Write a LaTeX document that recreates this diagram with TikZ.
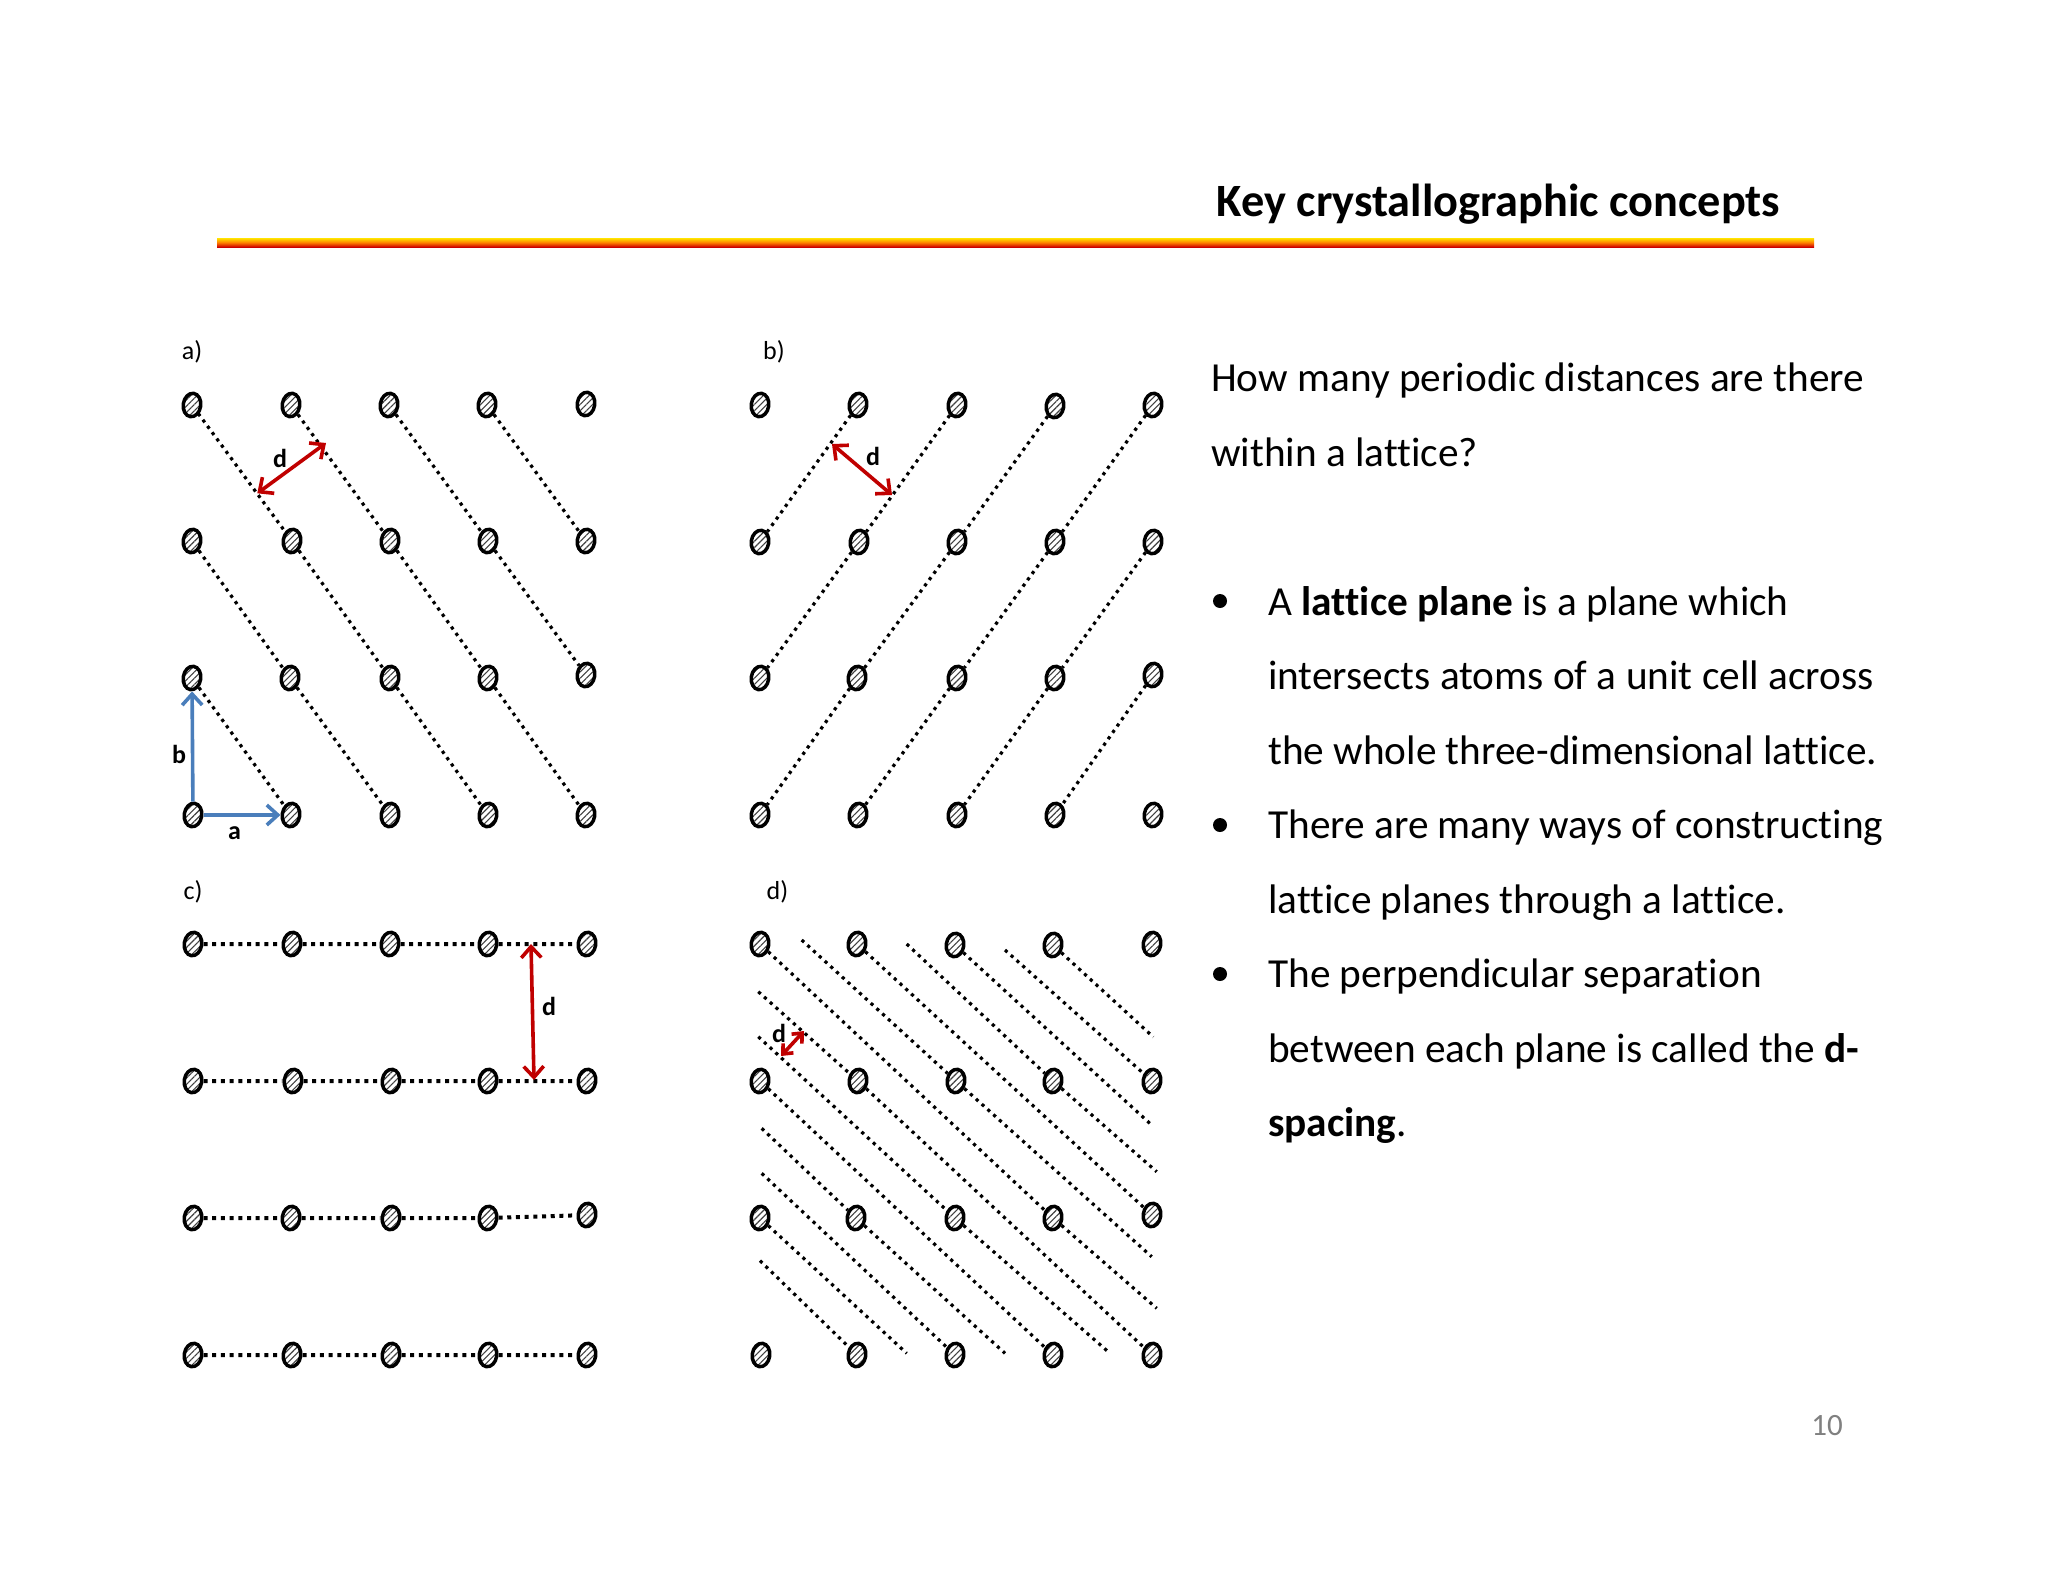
\documentclass[tikz,border=0pt]{standalone}
\usepackage{fontspec}
\setmainfont{Carlito}[Ligatures=NoCommon]
\usetikzlibrary{shapes.geometric,patterns.meta,arrows.meta}
\definecolor{arrowred}{RGB}{192,0,0}
\definecolor{arrowblue}{RGB}{74,126,187}
\tikzset{
  atom/.style={ellipse,draw=black,line width=3.5pt,inner sep=0pt,minimum width=17.5pt,minimum height=23.5pt,rotate=-8,
    pattern={Lines[angle=45,distance=4.4pt,line width=1.1pt]},pattern color=black!75},
  dotline/.style={line width=3.2pt,dash pattern=on 3.2pt off 4.6pt,black},
  dotthick/.style={line width=4pt,dash pattern=on 4pt off 4.7pt,black},
  redarrow/.style={line width=3.6pt,arrowred,{Straight Barb[length=11pt,width=20pt,line width=3.6pt]}-{Straight Barb[length=11pt,width=20pt,line width=3.6pt]}},
  bluearrow/.style={line width=3.6pt,arrowblue,-{Straight Barb[length=11pt,width=20pt,line width=3.6pt]}},
  small/.style={font=\fontsize{26}{26}\selectfont,inner sep=0pt},
  tag/.style={font=\fontsize{26}{26}\selectfont\bfseries,inner sep=0pt},
  body/.style={font=\fontsize{41.3}{41.3}\selectfont,inner sep=0pt,anchor=base west},
  titletext/.style={font=\fontsize{46.3}{46.3}\selectfont\bfseries,inner sep=0pt,anchor=base east},
  bullet/.style={fill=black,circle,inner sep=0pt,minimum size=14pt},
  pagenum/.style={font=\fontsize{31}{31}\selectfont,inner sep=0pt,text=black!50},
}
\newcommand{\atoms}[2]{\foreach \n/\x in {#2}{\node[atom] (#1\n) at (\x) {};}}
\begin{document}
\begin{tikzpicture}[x=1pt,y=-1pt]
\useasboundingbox (0,0) rectangle (2048,1582);
% title
\node[titletext] (title) at (1780.5,216) {Key crystallographic concepts};
\shade[top color=yellow!80!orange,bottom color=red!80!black,middle color=orange] (217,238) rectangle (1814,247);
% panel labels
\node[small] (la) at (192,351.5) {a)};
\node[small] (lb) at (774,351.5) {b)};
\node[small] (lc) at (193,892) {c)};
\node[small] (ld) at (777.5,892) {d)};
% atoms a
\atoms{a}{11/{192,405},12/{291,405},13/{389,405},14/{487,405},15/{586,404},
 21/{192,541},22/{292,541},23/{390,541},24/{488,541},25/{586,541},
 31/{192,678},32/{290,678},33/{390,678},34/{488,678},35/{586,675},
 41/{193,815},42/{291,815},43/{390,815},44/{488,815},45/{586,815}}
% atoms b
\atoms{b}{11/{760,405},12/{858,405},13/{957,405},14/{1055,406},15/{1153,405},
 21/{760,542},22/{859,542},23/{957,542},24/{1055,542},25/{1153,542},
 31/{760,678},32/{857,678},33/{957,678},34/{1055,678},35/{1153,675},
 41/{760,815},42/{858,815},43/{957,815},44/{1055,815},45/{1153,815}}
% atoms c
\atoms{c}{11/{193,944},12/{292,944},13/{390,944},14/{488,944},15/{587,944},
 21/{193,1081},22/{293,1081},23/{391,1081},24/{488,1081},25/{587,1081},
 31/{193,1218},32/{291,1218},33/{391,1218},34/{488,1218},35/{587,1215},
 41/{193,1355},42/{292,1355},43/{391,1355},44/{488,1355},45/{587,1355}}
% atoms d
\atoms{d}{11/{760,944},12/{857,944},13/{955,945},14/{1053,945},15/{1152,944},
 21/{760,1081},22/{858,1081},23/{956,1081},24/{1053,1081},25/{1152,1081},
 31/{760,1218},32/{856,1218},33/{955,1218},34/{1053,1218},35/{1152,1215},
 41/{761,1355},42/{857,1355},43/{955,1355},44/{1053,1355},45/{1152,1355}}
% lines a
\foreach \p/\q in {11/22,22/33,33/44,12/23,23/34,34/45,13/24,24/35,14/25,21/32,32/43,31/42}
  \draw[dotline] (a\p) -- (a\q);
% lines b
\foreach \p/\q in {12/21,13/22,22/31,14/23,23/32,32/41,15/24,24/33,33/42,25/34,34/43,35/44}
  \draw[dotline] (b\p) -- (b\q);
% lines c
\foreach \r in {1,2,3,4}
  \foreach \p/\q in {1/2,2/3,3/4,4/5}
    \draw[dotthick] (c\r\p) -- (c\r\q);
% lines d
\coordinate (e1) at (801.7,940);
\coordinate (e2) at (906.7,944);
\coordinate (e3) at (1005,950);
\coordinate (e4) at (1153.3,1037);
\coordinate (e5) at (1152.7,1126);
\coordinate (e6) at (1156.7,1171.7);
\coordinate (e7) at (1151.7,1256.7);
\coordinate (e8) at (1156.7,1308.3);
\coordinate (e9) at (758.3,991.7);
\coordinate (e10) at (758.3,1036.7);
\coordinate (e11) at (761.7,1128.3);
\coordinate (e12) at (761.7,1173.3);
\coordinate (e13) at (760,1260.7);
\coordinate (e14) at (906.7,1353.3);
\coordinate (e15) at (1005,1353.3);
\coordinate (e16) at (1110,1353.3);
\foreach \p/\q in {d11/d34,d34/e8,d12/d35,d13/e5,d14/e4,e3/d25,e2/d24,d24/e6,e1/d23,d23/e7,e9/d22,d22/d45,e10/d33,d33/e16,d21/d44,e11/d32,d32/e15,e12/d43,d31/e14,e13/d42}
  \draw[dotline] (\p) -- (\q);
% arrows
\coordinate (ra1) at (326,443); \coordinate (ra2) at (257.3,493.3);
\draw[redarrow] (ra1) -- (ra2);
\node[tag] (da) at (280,458) {d};
\coordinate (rb1) at (832,444); \coordinate (rb2) at (892,495);
\draw[redarrow] (rb1) -- (rb2);
\node[tag] (db) at (873,456) {d};
\coordinate (rc1) at (531,944); \coordinate (rc2) at (534,1080);
\draw[redarrow] (rc1) -- (rc2);
\node[tag] (dc) at (549,1006) {d};
\coordinate (rd1) at (804,1031); \coordinate (rd2) at (781,1056);
\draw[redarrow,{Straight Barb[length=8pt,width=14pt,line width=3.6pt]}-{Straight Barb[length=8pt,width=14pt,line width=3.6pt]}] (rd1) -- (rd2);
\node[tag] (dd) at (779,1033) {d};
\draw[bluearrow] (a41) -- (a31);
\draw[bluearrow] (a41) -- (a42);
\node[tag] (tb) at (179,754) {b};
\node[tag] (ta) at (234.5,833) {a};
% text
\node[body] (t1) at (1211,391.5) {How many periodic distances are there};
\node[body] (t2) at (1211,466) {within a lattice?};
\node[bullet] (b1) at (1220,601) {};
\node[body] (t3) at (1268,615) {A \textbf{lattice plane} is a plane which};
\node[body] (t4) at (1268,689.5) {intersects atoms of a unit cell across};
\node[body] (t5) at (1268,764) {the whole three-dimensional lattice.};
\node[bullet] (b2) at (1220,825) {};
\node[body] (t6) at (1268,838.5) {There are many ways of constructing};
\node[body] (t7) at (1268,913) {lattice planes through a lattice.};
\node[bullet] (b3) at (1220,974) {};
\node[body] (t8) at (1268,987.5) {The perpendicular separation};
\node[body] (t9) at (1268,1062) {between each plane is called the \textbf{d-}};
\node[body] (t10) at (1268,1136.5) {\textbf{spacing}.};
\node[pagenum] (pg) at (1827,1426) {10};
\end{tikzpicture}
\end{document}
